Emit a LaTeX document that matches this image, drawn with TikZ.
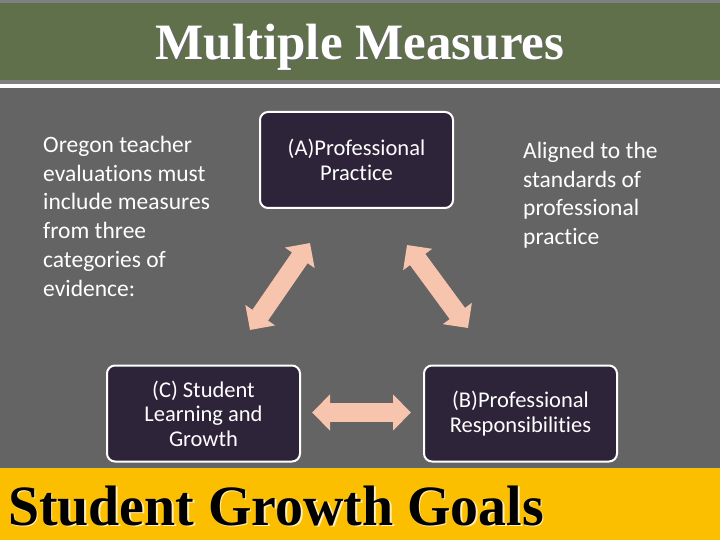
\documentclass[tikz,border=0pt]{standalone}
\usepackage{fontspec}
\setmainfont{Carlito}[Ligatures=NoCommon]
\newfontfamily\headfont{Liberation Serif}
\usetikzlibrary{arrows.meta}
\definecolor{slidegray}{HTML}{646464}
\definecolor{bandgreen}{HTML}{5F704B}
\definecolor{bandgray}{HTML}{808080}
\definecolor{goldband}{HTML}{FBBF00}
\definecolor{boxfill}{HTML}{2E2439}
\definecolor{peach}{HTML}{F7C4AE}
\begin{document}
\begin{tikzpicture}[
    x=1pt, y=-1pt,
    every node/.style={inner sep=0pt, text=white},
    category/.style={draw=white, line width=2pt, fill=boxfill, rounded corners=8pt,
        minimum width=193pt, minimum height=96pt, align=center,
        font=\fontsize{22.5}{24.5}\selectfont},
    note/.style={anchor=north west, align=left, font=\fontsize{23.5}{28.7}\selectfont},
    headline/.style={font=\headfont\bfseries\fontsize{51}{55}\selectfont},
    footline/.style={anchor=base west, xscale=0.98, font=\headfont\bfseries\fontsize{57}{60}\selectfont},
    link/.style={peach, line width=19pt, {Triangle[length=18pt,width=35pt]}-{Triangle[length=18pt,width=35pt]}}
]
\useasboundingbox (0,0) rectangle (720,540);
\fill[slidegray] (0,0) rectangle (720,540);
\fill[bandgray] (0,0) rectangle (720,88);
\fill[bandgreen] (0,3) rectangle (720,80);
\fill[white] (0,84) rectangle (720,88);
\fill[goldband] (0,468) rectangle (720,540);

\node[headline, text=black!60] at (361.5,48.5) {Multiple Measures};
\node (title) [headline] at (360,47) {Multiple Measures};

\node (intro) [note] at (43,136) {Oregon teacher\\evaluations must\\include measures\\from three\\categories of\\evidence:};
\node (aside) [note] at (523,142) {Aligned to the\\standards of\\professional\\practice};

\node (A) [category] at (356.5,160) {(A)Professional\\Practice};
\node (C) [category] at (203.5,413.5) {(C) Student\\Learning and\\Growth};
\node (B) [category] at (520.5,413.5) {(B)Professional\\Responsibilities};

% arrow ends
\coordinate (ca) at (250,330);
\coordinate (ac) at (310,243);
\coordinate (ab) at (407,245);
\coordinate (ba) at (468,328);
\coordinate (cb) at (312,412.5);
\coordinate (bc) at (411,412.5);
\draw[link] (ca) -- (ac);
\draw[link] (ab) -- (ba);
\draw[link] (cb) -- (bc);

\node[footline, text=white!75!goldband] at (9.5,526.5) {Student Growth Goals};
\node (goals) [footline, text=black] at (8,525) {Student Growth Goals};
\end{tikzpicture}
\end{document}
